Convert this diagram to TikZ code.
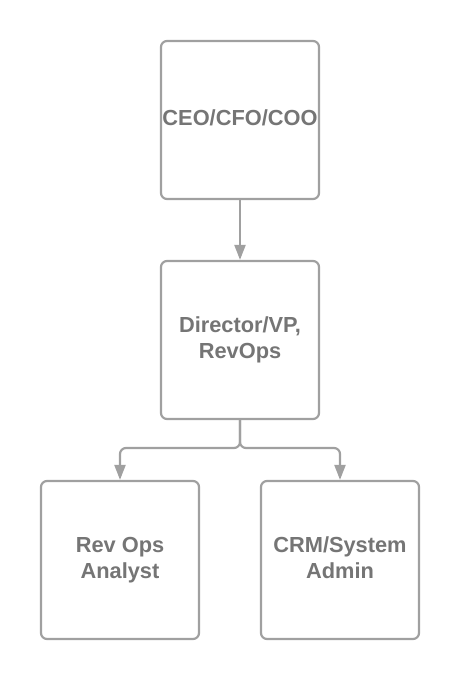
\documentclass[tikz,border=0pt]{standalone}
\usepackage{fontspec}
\setmainfont{Liberation Sans}
\usetikzlibrary{arrows.meta}
\definecolor{linegray}{HTML}{A0A0A0}
\definecolor{textgray}{HTML}{757575}
\tikzset{
  orgbox/.style={draw=linegray, line width=2.2pt, rounded corners=6pt, minimum width=158pt, minimum height=158pt, inner sep=0pt, align=center, text=textgray, font=\fontsize{21.8}{26.5}\selectfont\bfseries, fill=white},
  link/.style={draw=linegray, line width=2.2pt, -{Triangle[width=11pt,length=15pt]}}
}
\begin{document}
\begin{tikzpicture}[x=1pt,y=-1pt]
\useasboundingbox (0,0) rectangle (460,680);
\node[orgbox] (ceo) at (240,120) {\strut CEO/CFO/COO};
\node[orgbox] (dir) at (240,340) {\strut Director/VP,\\\strut RevOps};
\node[orgbox] (ana) at (120,560) {\strut Rev Ops\\\strut Analyst};
\node[orgbox] (crm) at (340,560) {\strut CRM/System\\\strut Admin};
\coordinate (split) at (240,448);
\draw[link] (ceo.south) -- (dir.north);
\draw[link, rounded corners=6pt] (dir.south) -- (split) -| (ana.north);
\draw[link, rounded corners=6pt] (dir.south) -- (split) -| (crm.north);
\end{tikzpicture}
\end{document}
